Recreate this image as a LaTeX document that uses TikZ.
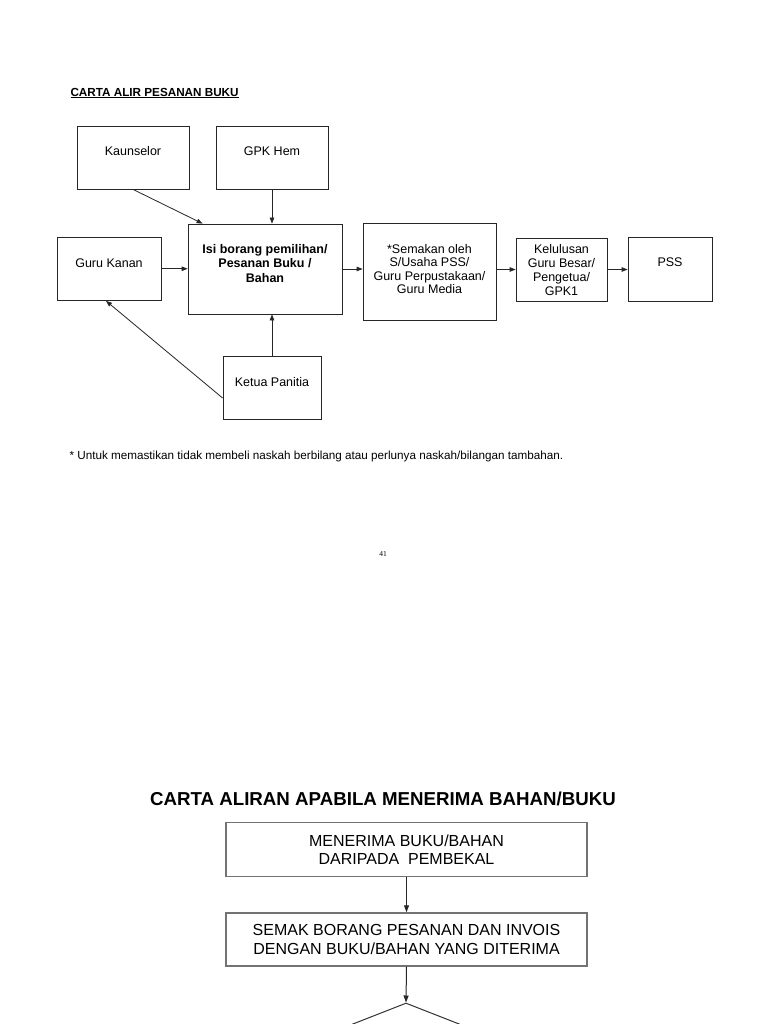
\documentclass[tikz,border=0pt]{standalone}
\usepackage{fontspec}
\setmainfont{Liberation Sans}
\newfontfamily\pagenumfont{Liberation Serif}
\usetikzlibrary{arrows.meta,shapes.geometric}

\tikzset{
  box/.style={draw=black!85, line width=0.8pt, minimum width=#1, align=center,
    font=\fontsize{12.5}{14.5}\selectfont, inner sep=2pt},
  textup/.style 2 args={text height=#1, text depth=#2},
  bigbox/.style={draw=black!55, line width=1.4pt, minimum width=361pt, minimum height=54pt,
    align=center, font=\fontsize{16}{18.3}\selectfont},
  arr/.style={-{Triangle[length=6pt,width=4.5pt]}, line width=0.8pt, black!85},
  bigarr/.style={-{Triangle[length=7pt,width=5pt]}, line width=1pt, black!85}
}

\begin{document}
\begin{tikzpicture}[x=1pt, y=-1pt]
\useasboundingbox (0,0) rectangle (768,1024);
\clip (0,0) rectangle (768,1024);
\fill[white] (0,0) rectangle (768,1024);

% carta alir pesanan buku
\node[anchor=west, font=\fontsize{11.7}{13}\selectfont\bfseries] (tajuk) at (67,93) {\underline{CARTA ALIR PESANAN BUKU}};

\node[box=112pt, minimum height=63pt, textup={9pt}{12pt}] (kaunselor) at (133,157.5) {Kaunselor};
\node[box=112pt, minimum height=63pt, textup={9pt}{12pt}] (gpkhem) at (272,157.5) {GPK Hem};
\node[box=104pt, minimum height=63.5pt, textup={9pt}{12pt}] (gurukanan) at (109,268.75) {Guru Kanan};
\node[box=154pt, minimum height=90pt, font=\fontsize{12.5}{14.5}\selectfont\bfseries, textup={38pt}{12pt}] (isiborang) at (265,269)
  {Isi borang pemilihan/\\Pesanan Buku /\\Bahan};
\node[box=133pt, minimum height=97pt, font=\fontsize{12.5}{13.3}\selectfont, textup={48.9pt}{5pt}] (semakan) at (429.5,271.5)
  {*Semakan oleh\\S/Usaha PSS/\\Guru Perpustakaan/\\Guru Media};
\node[box=91pt, minimum height=63pt, font=\fontsize{12.5}{14}\selectfont, textup={51pt}{0pt}] (kelulusan) at (561.5,269.5)
  {Kelulusan\\Guru Besar/\\Pengetua/\\GPK1};
\node[box=84pt, minimum height=64pt, textup={9pt}{15pt}] (pss) at (670,269) {PSS};
\node[box=98pt, minimum height=63pt, textup={9pt}{12pt}] (ketua) at (272,387.5) {Ketua Panitia};

\draw[arr] (kaunselor.south) -- ([xshift=15pt]isiborang.north west);
\draw[arr] (gpkhem.south) -- (gpkhem.south |- isiborang.north);
\draw[arr] (gurukanan.east) -- (gurukanan.east -| isiborang.west);
\draw[arr] (isiborang.east) -- (isiborang.east -| semakan.west);
\draw[arr] (semakan.east |- kelulusan.west) -- (kelulusan.west);
\draw[arr] (kelulusan.east) -- (kelulusan.east -| pss.west);
\draw[arr] (ketua.north) -- (ketua.north |- isiborang.south);
\draw[arr] ([yshift=-10.5pt]ketua.west) -- ([xshift=-3pt]gurukanan.south);

\node[anchor=west, font=\fontsize{11.7}{13}\selectfont] (nota) at (66,456)
  {* Untuk memastikan tidak membeli naskah berbilang atau perlunya naskah/bilangan tambahan.};

\node[font=\pagenumfont\fontsize{7.5}{9}\selectfont] (muka) at (383,554) {41};

% carta aliran apabila menerima bahan/buku
\node[font=\fontsize{18.7}{22}\selectfont\bfseries] (tajukdua) at (383,799) {CARTA ALIRAN APABILA MENERIMA BAHAN/BUKU};

\node[bigbox] (terima) at (406.5,849.5) {MENERIMA BUKU/BAHAN\\DARIPADA\ \ PEMBEKAL};
\node[bigbox, minimum height=53pt] (semakborang) at (406.5,939.5) {SEMAK BORANG PESANAN DAN INVOIS\\DENGAN BUKU/BAHAN YANG DITERIMA};
\node[draw=black!80, line width=1pt, diamond, minimum width=306pt, minimum height=120pt, inner sep=0pt] (keputusan) at (406,1063) {};

\draw[bigarr] (terima.south) -- (semakborang.north);
\draw[bigarr] (semakborang.south) -- (keputusan.north);
\end{tikzpicture}
\end{document}
